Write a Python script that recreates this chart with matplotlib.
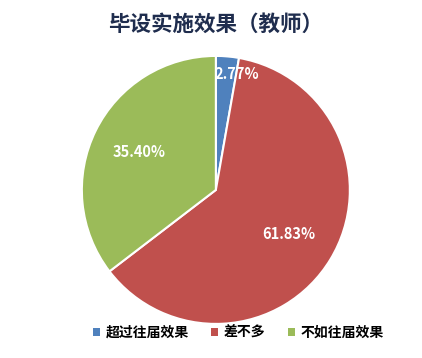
import matplotlib
matplotlib.use("Agg")
import matplotlib.pyplot as plt
import numpy as np
from matplotlib.patches import Patch

plt.rcParams['font.family'] = ['Noto Sans CJK SC', 'DejaVu Sans']

title = "毕设实施效果（教师）"
categories = ["超过往届效果", "差不多", "不如往届效果"]
values = [2.77, 61.83, 35.40]
colors = ["#4F81BD", "#C0504D", "#9BBB59"]

fig = plt.figure(figsize=(4.22, 3.58), dpi=100)
ax = fig.add_axes([0.194, 0.095, 0.635, 0.749])
wedges, texts, autotexts = ax.pie(values, colors=colors, startangle=90, counterclock=False,
                                  autopct=lambda p: f"{p:.2f}%", pctdistance=0.64,
                                  wedgeprops=dict(edgecolor="white", linewidth=1.5),
                                  textprops=dict(color="white", fontsize=10.5, fontweight="bold"))
# move small-slice label outward
ang = np.deg2rad(80)
autotexts[0].set_position((0.88 * np.cos(ang), 0.88 * np.sin(ang)))
ax.set_xlim(-1.0, 1.0)
ax.set_ylim(-1.0, 1.0)
ax.set_aspect("equal")

fig.text(0.51, 0.932, title, ha="center", va="center", fontsize=15.5, fontweight="bold", color="#1F2D4E")

handles = [Patch(facecolor=c, edgecolor="none") for c in colors]
fig.legend(handles, categories, loc="center", bbox_to_anchor=(0.565, 0.07), ncol=3, frameon=False,
           handlelength=0.5, handleheight=0.5, handletextpad=0.4, columnspacing=1.6,
           prop=dict(size=10, weight="bold"))

fig.savefig("out.png", dpi=100, facecolor="white")
